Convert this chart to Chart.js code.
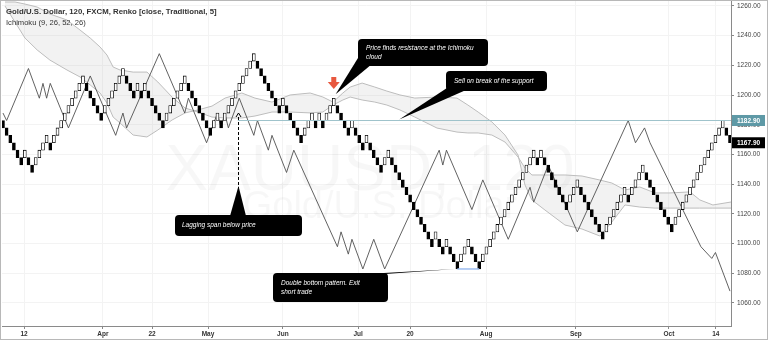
<!DOCTYPE html>
<html>
<head>
<meta charset="utf-8">
<script src="https://cdn.jsdelivr.net/npm/chart.js@4.4.1/dist/chart.umd.min.js"></script>
<style>
  html, body { margin: 0; padding: 0; background: #fff; }
  #wrap { width: 768px; height: 340px; position: relative; }
</style>
</head>
<body>
<div id="wrap"><canvas id="myChart" width="768" height="340"></canvas></div>
<script>
// renko closes, box size 5
const brickSize = 5;
const closes = [
  1177.9, 1172.9, 1167.9, 1162.9, 1157.9, 1152.9, 1162.9, 1152.9, 1147.9, 1157.9,
  1162.9, 1167.9, 1172.9, 1162.9, 1172.9, 1177.9, 1182.9, 1187.9, 1192.9, 1197.9,
  1202.9, 1207.9, 1212.9, 1202.9, 1197.9, 1192.9, 1187.9, 1182.9, 1192.9, 1197.9,
  1202.9, 1207.9, 1212.9, 1217.9, 1207.9, 1202.9, 1197.9, 1207.9, 1197.9, 1207.9,
  1197.9, 1192.9, 1187.9, 1182.9, 1177.9, 1187.9, 1192.9, 1197.9, 1202.9, 1207.9,
  1212.9, 1202.9, 1197.9, 1192.9, 1187.9, 1182.9, 1177.9, 1172.9, 1182.9, 1187.9,
  1177.9, 1187.9, 1192.9, 1197.9, 1202.9, 1207.9, 1212.9, 1217.9, 1222.9, 1227.9,
  1217.9, 1212.9, 1207.9, 1202.9, 1197.9, 1192.9, 1187.9, 1197.9, 1187.9, 1182.9,
  1177.9, 1172.9, 1167.9, 1177.9, 1182.9, 1187.9, 1177.9, 1187.9, 1177.9, 1187.9,
  1192.9, 1197.9, 1187.9, 1182.9, 1177.9, 1172.9, 1182.9, 1172.9, 1167.9, 1162.9,
  1172.9, 1162.9, 1157.9, 1152.9, 1147.9, 1157.9, 1162.9, 1152.9, 1147.9, 1142.9,
  1137.9, 1132.9, 1127.9, 1122.9, 1117.9, 1112.9, 1107.9, 1102.9, 1097.9, 1107.9,
  1097.9, 1092.9, 1102.9, 1092.9, 1087.9, 1082.9, 1092.9, 1097.9, 1102.9, 1092.9,
  1087.9, 1082.9, 1092.9, 1097.9, 1102.9, 1107.9, 1112.9, 1117.9, 1122.9, 1127.9,
  1132.9, 1137.9, 1142.9, 1147.9, 1152.9, 1157.9, 1162.9, 1152.9, 1162.9, 1152.9,
  1147.9, 1142.9, 1137.9, 1132.9, 1127.9, 1122.9, 1132.9, 1137.9, 1142.9, 1132.9,
  1127.9, 1122.9, 1117.9, 1112.9, 1107.9, 1102.9, 1112.9, 1117.9, 1122.9, 1127.9,
  1132.9, 1137.9, 1127.9, 1137.9, 1142.9, 1147.9, 1152.9, 1142.9, 1137.9, 1132.9,
  1127.9, 1122.9, 1117.9, 1112.9, 1107.9, 1117.9, 1122.9, 1127.9, 1132.9, 1137.9,
  1142.9, 1147.9, 1152.9, 1157.9, 1162.9, 1167.9, 1172.9, 1177.9, 1182.9, 1172.9,
  1167.9
];

// ichimoku cloud edges (brick index, price)
const cloudIdx = [0.55, 3.3, 6.05, 9.4, 12.9, 17.6, 21.2, 24.0, 26.7, 28.6, 30.3, 32.2, 35.8, 39.6,
  42.6, 46.5, 50.1, 53.6, 57.5, 61.1, 65.7, 69.3, 74.0, 79.0, 84.5, 88.0, 90.8, 93.5, 95.5, 98.8,
  102.3, 105.6, 109.2, 113.3, 119.4, 124.9, 127.9, 130.7, 134.5, 138.1, 141.7, 143.6, 145.5, 149.1,
  154.6, 159.3, 164.2, 167.5, 171.1, 175.2, 179.4, 183.5, 189.0, 191.7, 195.3, 200.3];
const spanA = [1262.7, 1262.7, 1261.3, 1259.3, 1254.6, 1250.6, 1243.8, 1238.4, 1232.4, 1227.0, 1218.9,
  1216.9, 1215.5, 1215.5, 1208.8, 1198.7, 1191.3, 1188.6, 1185.2, 1184.6, 1184.6, 1185.9, 1188.6,
  1188.6, 1188.0, 1188.6, 1193.3, 1196.7, 1198.7, 1196.7, 1195.3, 1193.3, 1190.0, 1185.2, 1177.8,
  1175.1, 1174.5, 1174.5, 1173.1, 1168.4, 1158.3, 1150.9, 1146.2, 1146.2, 1146.2, 1145.5, 1142.8,
  1140.8, 1136.1, 1138.1, 1134.1, 1134.1, 1134.8, 1129.4, 1126.0, 1128.0];
const spanB = [1260.0, 1249.2, 1238.4, 1230.4, 1223.6, 1216.9, 1212.2, 1206.8, 1201.4, 1194.7, 1185.2,
  1181.2, 1173.1, 1171.8, 1176.5, 1183.2, 1188.0, 1190.0, 1192.6, 1198.0, 1201.4, 1198.0, 1195.3,
  1200.1, 1201.4, 1198.7, 1195.3, 1201.4, 1205.4, 1208.1, 1205.4, 1202.7, 1200.1, 1198.0, 1198.7,
  1198.0, 1193.3, 1188.6, 1181.9, 1173.1, 1159.6, 1139.5, 1129.4, 1122.6, 1112.5, 1109.8, 1105.1,
  1114.5, 1126.0, 1124.6, 1123.9, 1123.9, 1123.9, 1123.9, 1123.9, 1123.9];

// lagging span turning points
const chikouIdx = [0, 1, 7, 10, 11, 12, 13, 18, 24, 31, 33, 34, 43, 50, 51, 56, 59, 60, 61, 62, 65,
  69, 70, 73, 74, 78, 80, 92, 93, 95, 96, 99, 102, 105, 120, 121, 122, 129, 132, 139, 145, 146,
  150, 158, 172, 174, 176.5, 178, 192, 195, 196, 200];
const chikouVal = [1187.9, 1182.9, 1217.9, 1197.9, 1207.9, 1197.9, 1207.9, 1177.9, 1212.9, 1172.9,
  1187.9, 1177.9, 1227.9, 1187.9, 1197.9, 1167.9, 1187.9, 1177.9, 1187.9, 1177.9, 1197.9, 1172.9,
  1182.9, 1162.9, 1172.9, 1147.9, 1162.9, 1097.9, 1107.9, 1092.9, 1102.9, 1082.9, 1102.9, 1082.9,
  1162.9, 1152.9, 1162.9, 1122.9, 1142.9, 1102.9, 1137.9, 1127.9, 1152.9, 1107.9, 1182.9, 1167.9,
  1177.9, 1167.9, 1097.9, 1090.0, 1094.0, 1068.0];

// time axis
const tickIdx = [5.8, 27.5, 41.0, 56.4, 77.0, 97.7, 112.0, 132.9, 157.6, 183.2, 196.1];
const tickText = ['12', 'Apr', '22', 'May', 'Jun', 'Jul', '20', 'Aug', 'Sep', 'Oct', '14'];
const priceTicks = [1060, 1080, 1100, 1120, 1140, 1160, 1180, 1200, 1220, 1240, 1260];

const lineLevel = 1182.9;
const lastClose = 1167.9;

const FONT = "'Liberation Sans', Arial, sans-serif";

const brickData = closes.map((c, i) => {
  const dir = i === 0 ? -1 : Math.sign(c - closes[i - 1]);
  return { x: i, y: [c - dir * brickSize, c] };
});
const brickFill = closes.map((c, i) => (i === 0 || c < closes[i - 1]) ? '#000' : '#fff');

function pts(xs, ys) { return xs.map((x, i) => ({ x: x, y: ys[i] })); }

// no label padding, so the plot fills the canvas edge to edge
function noPad(axis) {
  axis.paddingTop = 0;
  axis.paddingBottom = 0;
  axis.paddingLeft = 0;
  axis.paddingRight = 0;
}

// callout boxes, pixel layout
function callout(ctx, box, lines, wedge) {
  ctx.save();
  ctx.fillStyle = '#000';
  ctx.beginPath();
  ctx.moveTo(wedge[0][0], wedge[0][1]);
  ctx.lineTo(wedge[1][0], wedge[1][1]);
  ctx.lineTo(wedge[2][0], wedge[2][1]);
  ctx.closePath();
  ctx.fill();
  ctx.beginPath();
  ctx.roundRect(box.x, box.y, box.w, box.h, 4);
  ctx.fill();
  ctx.fillStyle = '#fff';
  ctx.font = 'italic 6.5px ' + FONT;
  ctx.textBaseline = 'middle';
  lines.forEach((t, k) => ctx.fillText(t, box.x + box.tx, box.y + box.ty + k * 9));
  ctx.restore();
}

const decorations = {
  id: 'decorations',
  beforeDatasetsDraw(chart) {
    const ctx = chart.ctx;
    const a = chart.chartArea;
    ctx.save();
    ctx.beginPath();
    ctx.rect(a.left, a.top, a.right - a.left, a.bottom - a.top);
    ctx.clip();
    ctx.fillStyle = 'rgba(0,0,0,0.03)';
    ctx.textAlign = 'center';
    ctx.font = '64px ' + FONT;
    ctx.fillText('XAUUSD, 120', 370, 190);
    ctx.font = '38px ' + FONT;
    ctx.fillText('Gold/U.S. Dollar', 380, 218);
    ctx.restore();
  },
  afterDatasetsDraw(chart) {
    const ctx = chart.ctx;
    const x = chart.scales.x, y = chart.scales.y;
    const a = chart.chartArea;

    // support line at the close of the double top
    const yl = Math.round(y.getPixelForValue(lineLevel)) + 0.5;
    ctx.save();
    ctx.strokeStyle = '#9fc3cb';
    ctx.lineWidth = 1.2;
    ctx.beginPath();
    ctx.moveTo(x.getPixelForValue(64.6), yl);
    ctx.lineTo(a.right, yl);
    ctx.stroke();

    // double bottom line
    ctx.strokeStyle = '#9dbdf0';
    ctx.lineWidth = 1.5;
    const yb = y.getPixelForValue(1082.9);
    ctx.beginPath();
    ctx.moveTo(x.getPixelForValue(125), yb);
    ctx.lineTo(x.getPixelForValue(131), yb);
    ctx.stroke();

    // lagging span dashed arrow
    const xa = Math.round(x.getPixelForValue(64.6)) + 0.5;
    ctx.strokeStyle = '#000';
    ctx.lineWidth = 1;
    ctx.setLineDash([3, 2]);
    ctx.beginPath();
    ctx.moveTo(xa, 117);
    ctx.lineTo(xa, 188);
    ctx.stroke();
    ctx.setLineDash([]);
    ctx.beginPath();
    ctx.moveTo(xa - 2.5, 117);
    ctx.lineTo(xa, 113);
    ctx.lineTo(xa + 2.5, 117);
    ctx.stroke();

    // red marker above the rejection brick
    const xr = x.getPixelForValue(91);
    ctx.fillStyle = '#e8583f';
    ctx.fillRect(xr - 2.5, 77, 5, 5);
    ctx.beginPath();
    ctx.moveTo(xr - 6, 82);
    ctx.lineTo(xr + 6, 82);
    ctx.lineTo(xr, 89);
    ctx.closePath();
    ctx.fill();
    ctx.restore();

    callout(ctx, { x: 175, y: 215, w: 127, h: 21, tx: 7, ty: 10.5 },
      ['Lagging span below price'], [[230, 216], [246, 216], [xa, 186]]);
    callout(ctx, { x: 358, y: 39, w: 130, h: 27, tx: 8, ty: 9 },
      ['Price finds resistance at the Ichimoku', 'cloud'],
      [[358, 58], [372, 64], [x.getPixelForValue(91.5), y.getPixelForValue(1200.5)]]);
    callout(ctx, { x: 446, y: 71, w: 101, h: 20, tx: 8, ty: 10 },
      ['Sell on break of the support'],
      [[450, 86], [466, 90], [x.getPixelForValue(109), y.getPixelForValue(lineLevel) - 1]]);
    callout(ctx, { x: 273, y: 273, w: 115, h: 29, tx: 8, ty: 10 },
      ['Double bottom pattern. Exit', 'short trade'],
      [[330, 276], [385, 274], [x.getPixelForValue(124.5), yb]]);
  },
  afterDraw(chart) {
    const ctx = chart.ctx;
    const y = chart.scales.y;
    const a = chart.chartArea;
    ctx.save();
    // header
    ctx.fillStyle = '#333';
    ctx.textBaseline = 'middle';
    ctx.font = 'bold 7.8px ' + FONT;
    ctx.fillText('Gold/U.S. Dollar, 120, FXCM, Renko [close, Traditional, 5]', 6, 12);
    ctx.font = '7.6px ' + FONT;
    ctx.fillText('Ichimoku (9, 26, 52, 26)', 6, 23);

    // price tags on the axis
    const tag = (v, bg) => {
      const py = y.getPixelForValue(v);
      ctx.fillStyle = bg;
      ctx.fillRect(a.right + 1, py - 5.5, 33, 11);
      ctx.fillStyle = '#fff';
      ctx.font = 'bold 6.5px ' + FONT;
      ctx.fillText(v.toFixed(2), a.right + 6, py + 0.5);
    };
    tag(lineLevel, '#5e99a6');
    tag(lastClose, '#000');

    // outer frame
    ctx.strokeStyle = '#b8b8b8';
    ctx.lineWidth = 1;
    ctx.strokeRect(0.5, 0.5, 767, 339);
    ctx.restore();
  }
};

const data = {
  datasets: [
    {
      type: 'line',
      label: 'Senkou A',
      data: pts(cloudIdx, spanA),
      borderColor: '#bdbdbd',
      borderWidth: 1,
      pointRadius: 0,
      fill: '+1',
      backgroundColor: 'rgba(190,190,190,0.2)',
      order: 3
    },
    {
      type: 'line',
      label: 'Senkou B',
      data: pts(cloudIdx, spanB),
      borderColor: '#bdbdbd',
      borderWidth: 1,
      pointRadius: 0,
      fill: false,
      order: 3
    },
    {
      type: 'line',
      label: 'Lagging span',
      data: pts(chikouIdx, chikouVal),
      borderColor: '#505050',
      borderWidth: 0.9,
      pointRadius: 0,
      fill: false,
      order: 2
    },
    {
      type: 'bar',
      label: 'Renko',
      data: brickData,
      backgroundColor: brickFill,
      borderColor: '#000',
      borderWidth: 0.8,
      borderSkipped: false,
      barThickness: 3,
      grouped: false,
      order: 1
    }
  ]
};

const config = {
  type: 'bar',
  data,
  options: {
    responsive: false,
    animation: false,
    layout: { padding: { left: 2, top: 0, right: 0, bottom: 0 } },
    plugins: { legend: { display: false }, tooltip: { enabled: false } },
    scales: {
      x: {
        type: 'linear',
        offset: false,
        min: -0.275,
        max: 200.28,
        grid: { color: '#f3f3f3', tickLength: 3, tickColor: '#888', offset: false },
        border: { color: '#8a8a8a' },
        afterBuildTicks: axis => { axis.ticks = tickIdx.map(v => ({ value: v })); },
        afterFit: axis => { axis.height = 14; noPad(axis); },
        ticks: {
          autoSkip: false,
          maxRotation: 0,
          padding: 1,
          color: '#333',
          font: { family: FONT, size: 6.5, weight: 'bold' },
          callback: (v, i) => tickText[i]
        }
      },
      y: {
        type: 'linear',
        position: 'right',
        min: 1044.5,
        max: 1264.04,
        grid: { color: '#f3f3f3', tickLength: 3, tickColor: '#888' },
        border: { color: '#8a8a8a' },
        afterBuildTicks: axis => { axis.ticks = priceTicks.map(v => ({ value: v })); },
        afterFit: axis => { axis.width = 37; noPad(axis); },
        ticks: {
          padding: 3,
          color: '#444',
          font: { family: FONT, size: 6.5 },
          callback: v => v.toFixed(2)
        }
      }
    }
  },
  plugins: [decorations]
};

const myChart = new Chart(document.getElementById('myChart'), config);
</script>
</body>
</html>
